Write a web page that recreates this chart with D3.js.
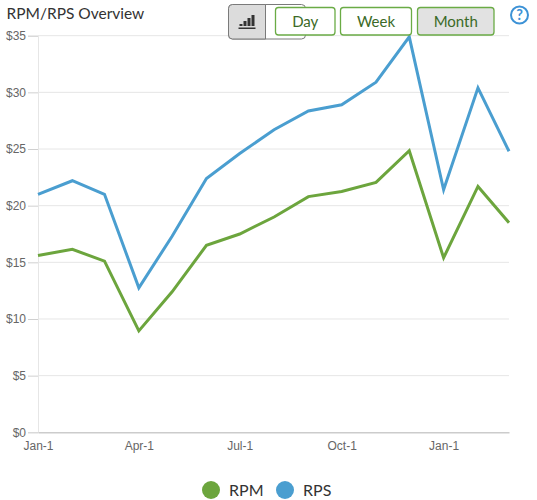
<!DOCTYPE html>
<html>
<head>
<meta charset="utf-8">
<script src="https://cdn.jsdelivr.net/npm/d3@7"></script>
<style>
  body { margin: 0; background: #fff; }
</style>
</head>
<body>
<div class="area"></div>
<script>
// data
var months = ["2020-01-01","2020-02-01","2020-03-01","2020-04-01","2020-05-01","2020-06-01",
              "2020-07-01","2020-08-01","2020-09-01","2020-10-01","2020-11-01","2020-12-01",
              "2021-01-01","2021-02-01","2021-03-01"];
var rpm = [15.6, 16.15, 15.1, 8.95, 12.4, 16.5, 17.5, 19.0, 20.8, 21.25, 22.05, 24.85, 15.4, 21.7, 18.5];
var rps = [21.0, 22.2, 21.0, 12.75, 17.3, 22.4, 24.6, 26.7, 28.35, 28.9, 30.9, 34.9, 21.4, 30.4, 24.8];
var yTicks = [0, 5, 10, 15, 20, 25, 30, 35];
var xTicks = ["2020-01-01","2020-04-01","2020-07-01","2020-10-01","2021-01-01"];
var buttons = ["Day", "Week", "Month"];
var seriesNames = ["RPM", "RPS"];

var green = "#6ca53d", blue = "#4a9ed0";
var parse = d3.timeParse("%Y-%m-%d");
var axisFont = "'Liberation Sans', Arial, sans-serif",
    uiFont = "Lato, 'Open Sans', sans-serif";

var W = 537, H = 500;
var margin = {top: 35.7, right: 28, bottom: 67.7, left: 38},
    width = W - margin.left - margin.right,
    height = H - margin.top - margin.bottom;

var svg = d3.select(".area")
  .append("svg")
    .attr("width", W)
    .attr("height", H);

var area = svg.append("g")
    .attr("transform", "translate(" + margin.left + "," + margin.top + ")");

var x = d3.scaleTime()
  .domain([parse(months[0]), parse(months[months.length - 1])])
  .range([0, width]);

var y = d3.scaleLinear()
  .domain([0, 35])
  .range([height, 0]);

// grid lines
area.append("g")
  .selectAll("line")
  .data(yTicks.slice(1))
  .enter().append("line")
    .attr("x1", 0).attr("x2", width)
    .attr("y1", d => y(d)).attr("y2", d => y(d))
    .attr("stroke", "#e6e6e6")
    .attr("stroke-width", 1);

// y axis
var yAxis = area.append("g")
  .call(d3.axisLeft(y).tickValues(yTicks).tickFormat(d => "$" + d).tickSize(10).tickPadding(2));
yAxis.select(".domain").attr("stroke", "#e6e6e6");
yAxis.selectAll(".tick line").attr("stroke", "#d0d0d0");
yAxis.selectAll("text").attr("fill", "#666").style("font-size", "12px").style("font-family", axisFont);

// x axis
var xAxis = area.append("g")
  .attr("transform", "translate(0," + height + ")")
  .call(d3.axisBottom(x).tickValues(xTicks.map(parse)).tickFormat(d3.timeFormat("%b-1")).tickSize(0).tickPadding(9));
xAxis.select(".domain").attr("stroke", "#cccccc").attr("stroke-width", 1.5);
xAxis.selectAll("text").attr("fill", "#666").style("font-size", "12px").style("font-family", axisFont);

// lines
var line = d3.line()
  .x((d, i) => x(parse(months[i])))
  .y(d => y(d));

area.append("path")
  .datum(rpm)
  .attr("fill", "none")
  .attr("stroke", green)
  .attr("stroke-width", 3)
  .attr("d", line);

area.append("path")
  .datum(rps)
  .attr("fill", "none")
  .attr("stroke", blue)
  .attr("stroke-width", 3)
  .attr("d", line);

// title
svg.append("text")
  .attr("x", 6.5).attr("y", 19)
  .style("font-family", uiFont)
  .style("font-size", "15.5px")
  .attr("fill", "#333")
  .text("RPM/RPS Overview");

// chart-type toggle (behind the period buttons)
var tog = svg.append("g");
tog.append("rect")
  .attr("x", 228.5).attr("y", 4.5).attr("width", 77).attr("height", 34.5).attr("rx", 4)
  .attr("fill", "#fff").attr("stroke", "#7a7a7a");
tog.append("path")
  .attr("d", "M232.5,4.5 H265.5 V39 H232.5 A4,4 0 0 1 228.5,35 V8.5 A4,4 0 0 1 232.5,4.5 Z")
  .attr("fill", "#dcdcdc").attr("stroke", "#7a7a7a");
var bars = [2, 5, 8, 11];
tog.append("g").selectAll("rect")
  .data(bars)
  .enter().append("rect")
    .attr("x", (d, i) => 239.5 + i * 4)
    .attr("y", d => 26 - d)
    .attr("width", 3)
    .attr("height", d => d)
    .attr("fill", "#333");
tog.append("rect")
  .attr("x", 238.5).attr("y", 27.5).attr("width", 17).attr("height", 1.5).attr("fill", "#333");

// period buttons
var btnX = [275, 340, 417], btnW = [59.5, 71, 76.5];
var bg = svg.append("g").selectAll("g")
  .data(buttons)
  .enter().append("g");
bg.append("rect")
  .attr("x", (d, i) => btnX[i] + 0.5)
  .attr("y", 7.5)
  .attr("width", (d, i) => btnW[i])
  .attr("height", 27.5)
  .attr("rx", 3)
  .attr("fill", d => d === "Month" ? "#e2e2e2" : "#fff")
  .attr("stroke", "#6aab45")
  .attr("stroke-width", 1.3);
bg.append("text")
  .attr("x", (d, i) => btnX[i] + 0.5 + btnW[i] / 2)
  .attr("y", 26.5)
  .attr("text-anchor", "middle")
  .style("font-family", uiFont)
  .style("font-size", "15px")
  .attr("fill", "#3b6a27")
  .text(d => d);

// help icon
svg.append("circle")
  .attr("cx", 519.5).attr("cy", 15).attr("r", 8.5)
  .attr("fill", "#fff").attr("stroke", "#3d92d6").attr("stroke-width", 2);
svg.append("text")
  .attr("x", 519.5).attr("y", 20.3)
  .attr("text-anchor", "middle")
  .style("font-family", uiFont)
  .style("font-weight", "bold")
  .style("font-size", "14.5px")
  .attr("fill", "#3d92d6")
  .text("?");

// legend
var legX = [211, 285];
var leg = svg.append("g").selectAll("g")
  .data(seriesNames)
  .enter().append("g");
leg.append("circle")
  .attr("cx", (d, i) => legX[i]).attr("cy", 490)
  .attr("r", 9)
  .attr("fill", (d, i) => i === 0 ? green : blue);
leg.append("text")
  .attr("x", (d, i) => legX[i] + 18).attr("y", 496)
  .style("font-family", uiFont)
  .style("font-size", "16px")
  .attr("fill", "#333")
  .text(d => d);
</script>
</body>
</html>
